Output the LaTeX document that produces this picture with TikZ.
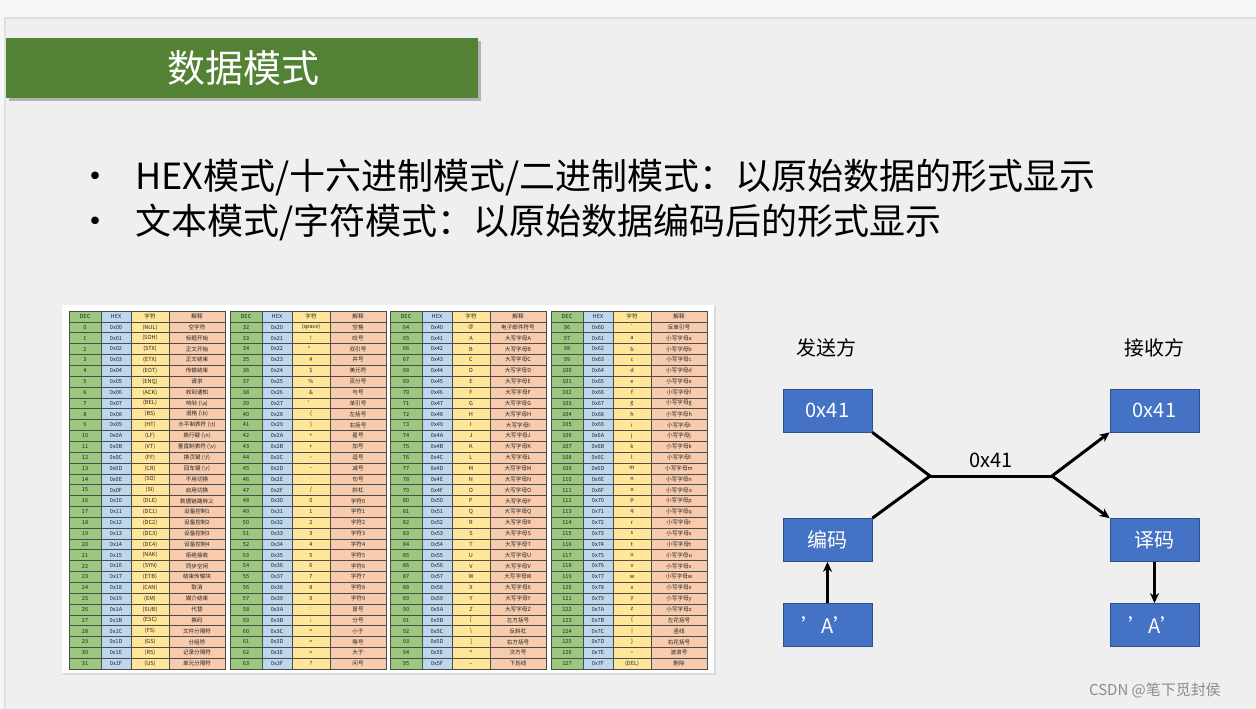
\documentclass[tikz,border=0pt]{standalone}
\usepackage{fontspec}
\setmainfont{Noto Sans CJK SC}
\usetikzlibrary{arrows.meta}
\definecolor{cdec}{HTML}{9BC77E}
\definecolor{chex}{HTML}{BDD7EE}
\definecolor{cch}{HTML}{FFE699}
\definecolor{cex}{HTML}{F8CBAD}
\definecolor{boxb}{HTML}{4472C4}
\definecolor{boxe}{HTML}{2F528F}
\definecolor{ban}{HTML}{548235}
\definecolor{outbg}{HTML}{F5F6F8}
\definecolor{slidebg}{HTML}{EFEFEF}
\newcommand\TRow[5]{%
  \pgfmathsetmacro\bx{{69,230,390,551}[#1]}%
  \pgfmathsetmacro\by{311+(#2+1)*10.85}%
  \path[cell,fill=cdec] (\bx,\by) rectangle ++(32,10.85) node[midway,tc]{#3};
  \path[cell,fill=chex] (\bx+32,\by) rectangle ++(30,10.85) node[midway,tc]{#4};
  \path[cell,fill=cch] (\bx+62,\by) rectangle ++(38,10.85) node[midway,tc]{#5};
  \path[cell,fill=cex] (\bx+100,\by) rectangle ++(56,10.85) node[midway,tc]{\tex};
}
\newcommand\R[4]{%
  \pgfmathtruncatemacro\dd{#1*32+#2}%
  \pgfmathparse{Hex(\dd)}\edef\hh{\pgfmathresult}%
  \ifnum\dd<16 \edef\hh{0\hh}\fi
  \def\tex{#4}%
  \TRow{#1}{#2}{\dd}{0x\hh}{#3}}
\begin{document}
\begin{tikzpicture}[x=1pt,y=-1pt,
  cell/.style={draw=black!70,line width=0.5pt},
  tc/.style={font=\fontsize{5.6}{6}\selectfont,inner sep=0pt,text=black!85},
  bx/.style={draw=boxe,fill=boxb,line width=0.8pt,minimum width=89pt,minimum height=43pt,text=white,font=\fontsize{20}{24}\selectfont,inner sep=0pt},
  ln/.style={line width=3pt,black},
  ar/.style={line width=3pt,black,-{Stealth[length=10pt,width=9pt]}}]
\useasboundingbox (0,0) rectangle (1256,709);
\fill[outbg] (0,0) rectangle (1256,709);
\fill[black!12] (4,17) rectangle (1256,709);
\fill[slidebg] (6,19) rectangle (1256,709);
% banner
\fill[black!30] (9,41) rectangle (481,101);
\fill[ban] (6,38) rectangle (478,98);
\node[text=white,font=\fontsize{38}{40}\selectfont] (title) at (243,68) {数据模式};
% bullets
\node[anchor=west,font=\fontsize{36}{40}\selectfont] (b1) at (74,178) {•\hspace{22pt}HEX模式/十六进制模式/二进制模式：以原始数据的形式显示};
\node[anchor=west,font=\fontsize{36}{40}\selectfont] (b2) at (74,222) {•\hspace{22pt}文本模式/字符模式：以原始数据编码后的形式显示};
% table
\fill[black!15] (63,306) rectangle (716,675);
\fill[white] (62,305) rectangle (714,673);
\foreach \b in {0,1,2,3}{\def\tex{解释}\TRow{\b}{-1}{DEC}{HEX}{字符}}
\R00{(NUL)}{空字符}\R01{(SOH)}{标题开始}\R02{(STX)}{正文开始}\R03{(ETX)}{正文结束}
\R04{(EOT)}{传输结束}\R05{(ENQ)}{请求}\R06{(ACK)}{收到通知}\R07{(BEL)}{响铃 (\textbackslash a)}
\R08{(BS)}{退格 (\textbackslash b)}\R09{(HT)}{水平制表符 (\textbackslash t)}\R0{10}{(LF)}{换行键 (\textbackslash n)}
\R0{11}{(VT)}{垂直制表符 (\textbackslash v)}\R0{12}{(FF)}{换页键 (\textbackslash f)}\R0{13}{(CR)}{回车键 (\textbackslash r)}
\R0{14}{(SO)}{不用切换}\R0{15}{(SI)}{启用切换}\R0{16}{(DLE)}{数据链路转义}
\R0{17}{(DC1)}{设备控制1}\R0{18}{(DC2)}{设备控制2}\R0{19}{(DC3)}{设备控制3}\R0{20}{(DC4)}{设备控制4}
\R0{21}{(NAK)}{拒绝接收}\R0{22}{(SYN)}{同步空闲}\R0{23}{(ETB)}{结束传输块}\R0{24}{(CAN)}{取消}
\R0{25}{(EM)}{媒介结束}\R0{26}{(SUB)}{代替}\R0{27}{(ESC)}{换码}\R0{28}{(FS)}{文件分隔符}
\R0{29}{(GS)}{分组符}\R0{30}{(RS)}{记录分隔符}\R0{31}{(US)}{单元分隔符}
\R10{(space)}{空格}\R11{!}{叹号}\R12{"}{双引号}\R13{\#}{井号}\R14{\$}{美元符}\R15{\%}{百分号}
\R16{\&}{与号}\R17{'}{单引号}\R18{(}{左括号}\R19{)}{右括号}\R1{10}{*}{星号}\R1{11}{+}{加号}
\R1{12}{,}{逗号}\R1{13}{-}{减号}\R1{14}{.}{句号}\R1{15}{/}{斜杠}
\foreach \d in {0,...,9}{\pgfmathtruncatemacro\rr{16+\d}\R1{\rr}{\d}{字符\d}}
\R1{26}{:}{冒号}\R1{27}{;}{分号}\R1{28}{<}{小于}\R1{29}{=}{等号}\R1{30}{>}{大于}\R1{31}{?}{问号}
\R20{@}{电子邮件符号}
\foreach \c [count=\i] in {A,B,C,D,E,F,G,H,I,J,K,L,M,N,O,P,Q,R,S,T,U,V,W,X,Y,Z}{\R2{\i}{\c}{大写字母\c}}
\R2{27}{[}{左方括号}\R2{28}{\textbackslash}{反斜杠}\R2{29}{]}{右方括号}\R2{30}{\textasciicircum}{次方号}\R2{31}{\_}{下划线}
\R30{\textasciigrave}{反单引号}
\foreach \c [count=\i] in {a,b,c,d,e,f,g,h,i,j,k,l,m,n,o,p,q,r,s,t,u,v,w,x,y,z}{\R3{\i}{\c}{小写字母\c}}
\R3{27}{\{}{左花括号}\R3{28}{|}{竖线}\R3{29}{\}}{右花括号}\R3{30}{\textasciitilde}{波浪号}\R3{31}{(DEL)}{删除}
% diagram
\node[font=\fontsize{20}{24}\selectfont] (snd) at (826,348) {发送方};
\node[font=\fontsize{20}{24}\selectfont] (rcv) at (1154,348) {接收方};
\node[bx] (h1) at (827.5,410.5) {0x41};
\node[bx] (e1) at (827.5,540) {编码};
\node[bx] (a1) at (827.5,625) {'A'};
\node[bx] (h2) at (1154.5,410.5) {0x41};
\node[bx] (d2) at (1154.5,540) {译码};
\node[bx] (a2) at (1154.5,625) {'A'};
\coordinate (j1) at (930,476);
\coordinate (j2) at (1052,476);
\draw[ln] (h1.south east) -- (j1) -- (e1.north east);
\draw[ln] (j1) -- node[above=3pt,font=\fontsize{20}{24}\selectfont] (lbl) {0x41} (j2);
\draw[ar] (j2) -- (h2.south west);
\draw[ar] (j2) -- (d2.north west);
\draw[ar] (a1.north) -- (e1.south);
\draw[ar] (d2.south) -- (a2.north);
\node[text=black!45,font=\fontsize{15}{18}\selectfont] (wm) at (1155,690) {CSDN @笔下觅封侯};
\end{tikzpicture}
\end{document}
